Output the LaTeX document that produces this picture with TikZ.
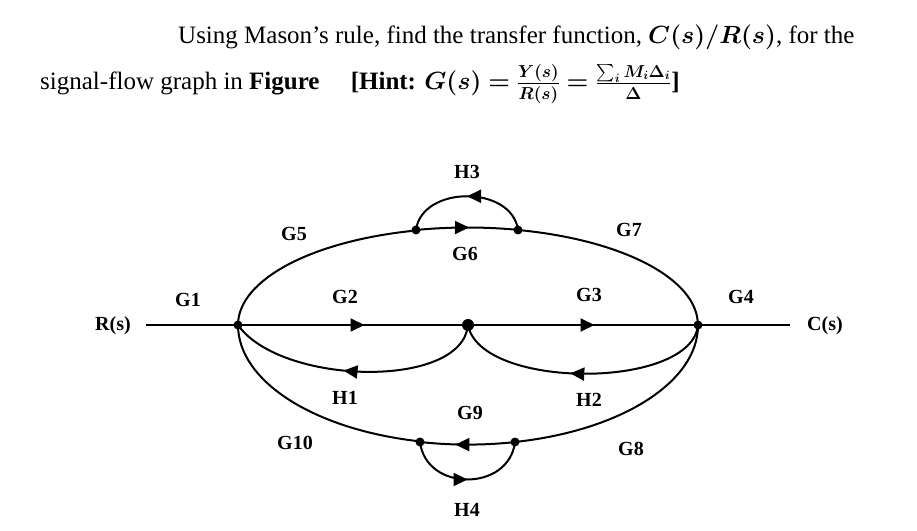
\documentclass[tikz,border=0pt]{standalone}
\usepackage{amsmath,bm}
\usepackage{fontspec}
\setmainfont{Liberation Serif}
\usetikzlibrary{decorations.markings,arrows.meta}
\begin{document}
\begin{tikzpicture}[x=1pt,y=1pt,
  lbl/.style={font=\fontsize{20}{24}\selectfont\bfseries},
  dot/.style={circle,fill=black,inner sep=0pt,minimum size=#1},
  dot/.default=9pt,
  edge/.style={line width=2pt},
  mid/.style={postaction={decorate},decoration={markings,mark=at position #1 with {\arrow{Triangle[length=14pt,width=13pt]}}}},
  midr/.style={postaction={decorate},decoration={markings,mark=at position #1 with {\arrow{Triangle[length=14pt,width=13pt,reversed]}}}}]
\useasboundingbox (0,0) rectangle (917,530);
% title
\node[anchor=base west,inner sep=0pt,font=\fontsize{25}{30}\selectfont] (t1) at (178,486) {Using Mason's rule, find the transfer function, $\bm{C(s)/R(s)}$, for the};
\node[anchor=base west,inner sep=0pt,font=\fontsize{25}{30}\selectfont] (t2) at (40,440) {signal-flow graph in \textbf{Figure}\quad\ \textbf{[Hint: $\bm{G(s)=\frac{Y(s)}{R(s)}=\frac{\sum_i M_i\Delta_i}{\Delta}}$]}};
% nodes
\node[dot] (A) at (238,205) {};
\node[dot=12pt] (M) at (468,205) {};
\node[dot] (B) at (698,205) {};
\coordinate (Rin) at (146,205);
\coordinate (Cout) at (790,205);
\node[dot] (T1) at (416,300) {};
\node[dot] (T2) at (518,300) {};
\node[dot] (L1) at (420,88) {};
\node[dot] (L2) at (515,88) {};
% edges
\draw[edge] (Rin) -- (A.center);
\draw[edge,mid=0.55] (A.center) -- (M.center);
\draw[edge,mid=0.55] (M.center) -- (B.center);
\draw[edge] (B.center) -- (Cout);
\draw[edge] (A.center) arc[start angle=180,end angle=103,x radius=230pt,y radius=97pt];
\draw[edge,mid=0.52] (T1.center) arc[start angle=103,end angle=77.4,x radius=230pt,y radius=97pt];
\draw[edge] (T2.center) arc[start angle=77.4,end angle=0,x radius=230pt,y radius=97pt];
\draw[edge] (A.center) arc[start angle=180,end angle=258,x radius=230pt,y radius=119pt];
\draw[edge,midr=0.52] (L1.center) arc[start angle=258,end angle=281.8,x radius=230pt,y radius=119pt];
\draw[edge] (L2.center) arc[start angle=281.8,end angle=360,x radius=230pt,y radius=119pt];
\draw[edge,mid=0.5] (T2.center) .. controls (512,345) and (422,345) .. (T1.center);
\draw[edge,mid=0.5] (L1.center) .. controls (426,38) and (509,38) .. (L2.center);
\draw[edge,mid=0.55] (M.center) .. controls (462,140) and (280,145) .. (A.center);
\draw[edge,mid=0.55] (B.center) .. controls (692,140) and (480,140) .. (M.center);
% labels
\node[lbl] at (113,204) {R(s)};
\node[lbl] at (825,204) {C(s)};
\node[lbl] at (188,230) {G1};
\node[lbl] at (345,233) {G2};
\node[lbl] at (589,235) {G3};
\node[lbl] at (741,233) {G4};
\node[lbl] at (294,296) {G5};
\node[lbl] at (465,276) {G6};
\node[lbl] at (629,300) {G7};
\node[lbl] at (467,358) {H3};
\node[lbl] at (345,132) {H1};
\node[lbl] at (589,130) {H2};
\node[lbl] at (470,117) {G9};
\node[lbl] at (295,87) {G10};
\node[lbl] at (631,81) {G8};
\node[lbl] at (467,20) {H4};
\end{tikzpicture}
\end{document}
